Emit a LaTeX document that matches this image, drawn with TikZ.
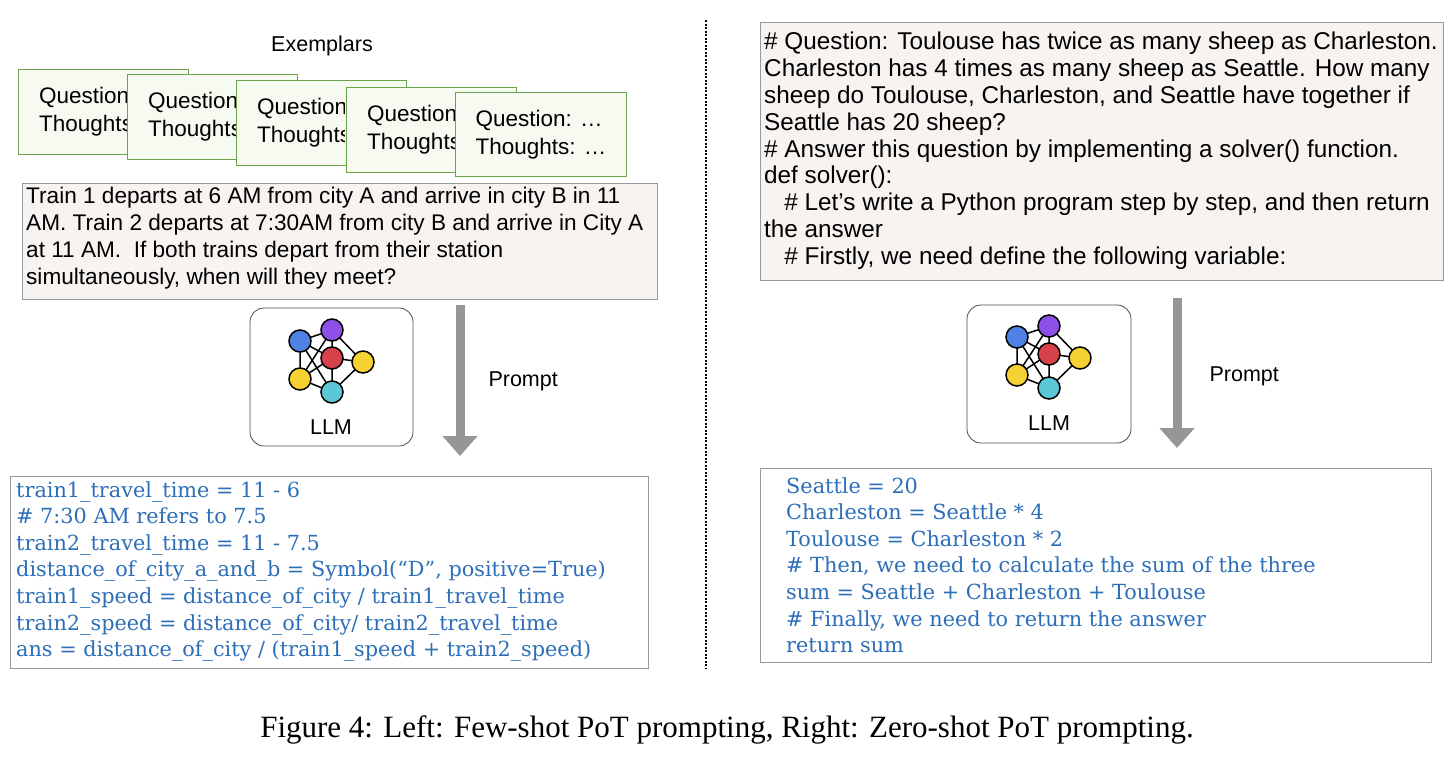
\documentclass[tikz,border=0pt]{standalone}
\usepackage{fontspec}
\setmainfont{Liberation Sans}
\newfontfamily\codefont{DejaVu Serif}
\newfontfamily\capfont{Liberation Serif}
\definecolor{codeblue}{RGB}{45,110,185}
\definecolor{qfill}{RGB}{247,243,241}
\definecolor{cardfill}{RGB}{246,250,240}
\definecolor{cardline}{RGB}{105,165,75}
\definecolor{nblue}{RGB}{80,130,230}
\definecolor{npurple}{RGB}{140,80,230}
\definecolor{nred}{RGB}{215,65,75}
\definecolor{nyellow}{RGB}{245,210,50}
\definecolor{ncyan}{RGB}{90,200,215}
\definecolor{arrowgray}{RGB}{150,150,150}
\tikzset{
  card/.style={draw=cardline,fill=cardfill,line width=0.8pt},
  qbox/.style={draw=gray!80,fill=qfill,line width=0.8pt},
  codebox/.style={draw=gray!80,fill=white,line width=0.8pt},
  qtext/.style={anchor=north west,inner sep=0pt,align=left,font=\fontsize{22.6}{27}\selectfont},
  qtextb/.style={anchor=north west,inner sep=0pt,align=left,font=\fontsize{24.3}{26.8}\selectfont},
  codetext/.style={anchor=north west,inner sep=0pt,align=left,text=codeblue,font=\codefont\fontsize{20.8}{26.6}\selectfont},
  cardtext/.style={inner sep=0pt,align=left,font=\fontsize{22.5}{28}\selectfont},
  llmbox/.style={draw=black!70,rounded corners=14pt,fill=white,line width=0.8pt},
  nn/.style={circle,draw=black,line width=1.5pt,minimum size=22pt,inner sep=0pt},
  bigarrow/.style={draw=arrowgray,line width=9pt,-{Triangle[length=20pt,width=34pt]}},
  lbl/.style={font=\fontsize{21.5}{24}\selectfont},
}
\usetikzlibrary{arrows.meta}
\newcommand{\llmicon}[2]{%
  \begin{scope}[shift={(#1,#2)}]
    \coordinate (b) at (-31,-19); \coordinate (p) at (1,-30); \coordinate (r) at (1,-2);
    \coordinate (yr) at (32,2); \coordinate (yl) at (-31,19); \coordinate (c) at (1,32);
    \draw[line width=1.5pt] (b)--(p) (b)--(r) (b)--(yl) (b)--(c) (p)--(r) (p)--(yr) (p)--(yl)
      (r)--(c) (r)--(yr) (yr)--(c) (yl)--(c) (yl)--(r);
    \node[nn,fill=nblue] at (b) {}; \node[nn,fill=npurple] at (p) {};
    \node[nn,fill=nred] at (r) {}; \node[nn,fill=nyellow] at (yr) {};
    \node[nn,fill=nyellow] at (yl) {}; \node[nn,fill=ncyan] at (c) {};
  \end{scope}}
\begin{document}
\begin{tikzpicture}[x=1pt,y=-1pt]
\useasboundingbox (0,0) rectangle (1456,764);
% Left
\node[lbl] (ex) at (322,46) {Exemplars};
\foreach \i/\x/\y in {1/18/69,2/127/74,3/236/80,4/346/87}{
  \draw[card] (\x,\y) rectangle ++(170,85);
  \begin{scope}
  \clip (\x,\y) rectangle ++(108,85);
  \node[cardtext,anchor=west] (c\i) at (\x+21,\y+43) {Question\\Thoughts};
  \end{scope}
}
\draw[card] (455,92) rectangle (626,176);
\node[cardtext] (c5) at (541,135) {Question: \dots\\Thoughts: \dots};
\draw[qbox] (22,183) rectangle (657,299);
\node[qtext] (q1) at (26,187) {Train 1 departs at 6 AM from city A and arrive in city B in 11\\AM. Train 2 departs at 7:30AM from city B and arrive in City A\\at 11 AM.\ \ If both trains depart from their station\\simultaneously, when will they meet?};
\draw[llmbox] (250,308) rectangle (413,446);
\llmicon{331}{360}
\node[lbl] (llm1) at (331,427) {LLM};
\coordinate (a1s) at (460,305); \coordinate (a1e) at (460,456);
\draw[bigarrow] (a1s) -- (a1e);
\node[lbl,anchor=west] (p1) at (485,381) {Prompt};
\draw[codebox] (10,476) rectangle (648,668);
\node[codetext] (code1) at (16,481) {train1\_travel\_time = 11 - 6\\\# 7:30 AM refers to 7.5\\train2\_travel\_time = 11 - 7.5\\distance\_of\_city\_a\_and\_b = Symbol(“D”, positive=True)\\train1\_speed = distance\_of\_city / train1\_travel\_time\\train2\_speed = distance\_of\_city/ train2\_travel\_time\\ans = distance\_of\_city / (train1\_speed + train2\_speed)};
% divider
\draw[line width=2.5pt,dash pattern=on 2pt off 1.5pt] (706,20) -- (706,668);
% Right
\draw[qbox] (760,22) rectangle (1443,280);
\node[qtextb] (q2) at (764,32) {\# Question: Toulouse has twice as many sheep as Charleston.\\Charleston has 4 times as many sheep as Seattle. How many\\sheep do Toulouse, Charleston, and Seattle have together if\\Seattle has 20 sheep?\\\# Answer this question by implementing a solver() function.\\def solver():\\\ \ \ \# Let's write a Python program step by step, and then return\\the answer\\\ \ \ \# Firstly, we need define the following variable:};
\draw[llmbox] (967,305) rectangle (1131,443);
\llmicon{1048}{356}
\node[lbl] (llm2) at (1049,423) {LLM};
\coordinate (a2s) at (1177,298); \coordinate (a2e) at (1177,448);
\draw[bigarrow] (a2s) -- (a2e);
\node[lbl,anchor=west] (p2) at (1206,376) {Prompt};
\draw[codebox] (760,468) rectangle (1431,662);
\node[codetext] (code2) at (786,477) {Seattle = 20\\Charleston = Seattle * 4\\Toulouse = Charleston * 2\\\# Then, we need to calculate the sum of the three\\sum = Seattle + Charleston + Toulouse\\\# Finally, we need to return the answer\\return sum};
\node[font=\capfont\fontsize{31}{34}\selectfont] (cap) at (727,730) {Figure 4: Left: Few-shot PoT prompting, Right: Zero-shot PoT prompting.};
\end{tikzpicture}
\end{document}
